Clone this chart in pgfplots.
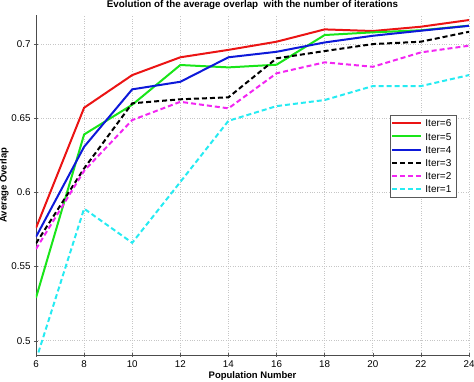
\documentclass[border=0pt]{standalone}
\usepackage{pgfplots}
\pgfplotsset{compat=1.18}
\usepackage{fontspec}
\setmainfont{Liberation Sans}
\definecolor{mred}{rgb}{0.92,0.08,0.08}
\definecolor{mgreen}{rgb}{0.1,0.9,0.1}
\definecolor{mblue}{rgb}{0.05,0.1,0.85}
\definecolor{mmag}{rgb}{0.95,0.15,0.95}
\definecolor{mcyan}{rgb}{0.15,0.92,0.95}
\begin{document}
\begin{tikzpicture}
\begin{axis}[
  at={(0,0)}, anchor=south west,
  scale only axis, width=433pt, height=340pt,
  xmin=6, xmax=24, ymin=0.4904, ymax=0.7195,
  xtick={6,8,...,24},
  ytick={0.5,0.55,0.6,0.65,0.7},
  yticklabels={0.5,0.55,0.6,0.65,0.7},
  /pgf/number format/assume math mode=true,
  tick label style={font=\fontsize{9.8}{11}\selectfont},
  ticklabel style={color=black},
  tick align=inside,
  tick style={gray!70!black, thin},
  major tick length=4pt,
  axis lines=left,
  axis line style={-, gray!60!black, line width=0.8pt},
  grid=major,
  grid style={dotted, gray!45, line width=0.6pt},
  title={\bfseries Evolution of the average overlap\ \ with the number of iterations},
  every axis title/.style={at={(0.5,1)}, anchor=base, yshift=7.5pt, inner sep=0pt, font=\fontsize{9.8}{11}\selectfont},
  xlabel={\bfseries Population Number},
  ylabel={\bfseries Average Overlap},
  label style={font=\fontsize{9.5}{11}\selectfont},
  xlabel style={yshift=3pt},
  ylabel style={yshift=-4pt},
  clip=true,
  legend style={at={(0.970,0.706)}, anchor=north east, draw=gray!70!black, fill=white,
    font=\fontsize{10}{11}\selectfont, row sep=0pt, inner sep=1.5pt,
    nodes={text height=7.2pt, text depth=0pt, inner sep=3pt}},
  legend cell align=left,
  legend image code/.code={\draw[#1] (0pt,0pt) -- (29pt,0pt);},
  every axis plot/.append style={line width=2pt},
]
\addplot[mred, solid] coordinates {(6,0.576) (8,0.657) (10,0.679) (12,0.691) (14,0.696) (16,0.7015) (18,0.7098) (20,0.7087) (22,0.7116) (24,0.7161)};
\addlegendentry{Iter=6}
\addplot[mgreen, solid] coordinates {(6,0.529) (8,0.639) (10,0.659) (12,0.6858) (14,0.6842) (16,0.686) (18,0.706) (20,0.7078) (22,0.7092) (24,0.7123)};
\addlegendentry{Iter=5}
\addplot[mblue, solid] coordinates {(6,0.570) (8,0.6307) (10,0.6694) (12,0.6745) (14,0.691) (16,0.6947) (18,0.701) (20,0.7055) (22,0.7089) (24,0.7122)};
\addlegendentry{Iter=4}
\addplot[black, dash pattern=on 5pt off 3pt] coordinates {(6,0.5656) (8,0.6161) (10,0.660) (12,0.6627) (14,0.664) (16,0.6903) (18,0.6952) (20,0.6999) (22,0.7015) (24,0.7082)};
\addlegendentry{Iter=3}
\addplot[mmag, dash pattern=on 5pt off 3pt] coordinates {(6,0.5618) (8,0.6145) (10,0.6487) (12,0.661) (14,0.6566) (16,0.6802) (18,0.6876) (20,0.6846) (22,0.6943) (24,0.6988)};
\addlegendentry{Iter=2}
\addplot[mcyan, dash pattern=on 5pt off 3pt] coordinates {(6,0.487) (8,0.589) (10,0.566) (12,0.607) (14,0.6482) (16,0.6581) (18,0.6622) (20,0.6716) (22,0.6716) (24,0.679)};
\addlegendentry{Iter=1}
\end{axis}
\pgfresetboundingbox
\path[use as bounding box] (-36pt,-27pt) rectangle (438pt,355pt);
\end{tikzpicture}
\end{document}
